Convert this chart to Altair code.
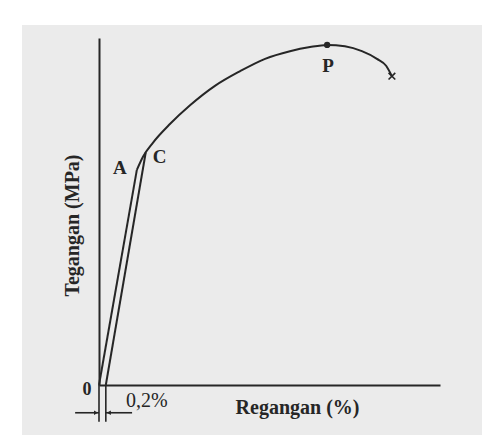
import altair as alt
import pandas as pd

# --- data (strain in %, stress in MPa; schematic values) ---
elastic_strain = [0.0, 1.11]
elastic_stress = [0, 310]

curve_strain = [1.11, 1.29, 1.58, 2.08, 2.67, 3.40, 4.13, 4.87, 5.60, 6.19,
                6.69, 7.21, 7.71, 8.15, 8.42, 8.59]
curve_stress = [310, 329, 349, 376, 403, 431, 452, 470, 481, 487,
                490, 488, 481, 470, 460, 445]

offset_strain = [0.2, 1.37]
offset_stress = [0, 335]

points_name = ["A", "C", "P", "X"]
points_strain = [1.11, 1.37, 6.69, 8.59]
points_stress = [310, 335, 490, 445]

# dimension marker for the 0,2% offset
dim_strain = [0.0, 0.2]
dim_stress_top = [0, 0]
dim_stress_bottom = [-53, -53]
arrow_from = [-0.70, 0.97]
arrow_to = [0.0, 0.2]
arrow_stress = -40

X_DOMAIN = [0, 10]
Y_DOMAIN = [0, 500]
INK = "#262626"
FONT = "Liberation Serif"

xs = alt.Scale(domain=X_DOMAIN, nice=False, zero=False)
ys = alt.Scale(domain=Y_DOMAIN, nice=False, zero=False)

elastic = pd.DataFrame({"e": elastic_strain, "s": elastic_stress})
curve = pd.DataFrame({"e": curve_strain, "s": curve_stress})
offset = pd.DataFrame({"e": offset_strain, "s": offset_stress})
pts = pd.DataFrame({"name": points_name, "e": points_strain, "s": points_stress})
dims = pd.DataFrame({"e": dim_strain, "s": dim_stress_top, "s2": dim_stress_bottom})
arrows = pd.DataFrame({"e": arrow_from, "e2": arrow_to, "s": [arrow_stress] * 2,
                       "dir": ["right", "left"]})
origin = pd.DataFrame({"e": [0.0], "s": [0], "t": ["0"]})
offset_lbl = pd.DataFrame({"e": [0.2], "s": [0], "t": ["0,2%"]})

x_axis = alt.Axis(title="Regangan (%)", ticks=False, labels=False, grid=False, zindex=1,
                  domainColor=INK, domainWidth=2, titleFont=FONT, titleFontSize=20,
                  titleFontWeight="bold", titleColor=INK, titleX=198, titleY=22,
                  titleAlign="center", titleBaseline="middle")
y_axis = alt.Axis(title="Tegangan (MPa)", ticks=False, labels=False, grid=False, zindex=1,
                  domainColor=INK, domainWidth=2, titleFont=FONT, titleFontSize=20,
                  titleFontWeight="bold", titleColor=INK, titleX=-27, titleY=187,
                  titleAlign="center", titleBaseline="middle", titleAngle=270)

panel = alt.Chart(alt.Data(values=[{}])).mark_rect(color="#ebebeb").encode(
    x=alt.value(-77), x2=alt.value(383), y=alt.value(-13), y2=alt.value(397)
)

base_x = alt.X("e:Q", scale=xs, axis=x_axis)
base_y = alt.Y("s:Q", scale=ys, axis=y_axis)

line_elastic = alt.Chart(elastic).mark_line(color=INK, strokeWidth=2).encode(x=base_x, y=base_y)
line_curve = alt.Chart(curve).mark_line(color=INK, strokeWidth=2, interpolate="monotone").encode(
    x=alt.X("e:Q", scale=xs, axis=x_axis), y=alt.Y("s:Q", scale=ys, axis=y_axis))
line_offset = alt.Chart(offset).mark_line(color=INK, strokeWidth=2).encode(
    x=alt.X("e:Q", scale=xs, axis=x_axis), y=alt.Y("s:Q", scale=ys, axis=y_axis))

p_dot = alt.Chart(pts[pts.name == "P"]).mark_point(filled=True, color=INK, size=40, opacity=1).encode(
    x=alt.X("e:Q", scale=xs), y=alt.Y("s:Q", scale=ys))
x_end = alt.Chart(pts[pts.name == "X"]).mark_point(
    shape="M-1,-1L1,1M-1,1L1,-1", filled=False, color=INK, size=45, strokeWidth=1.6, opacity=1
).encode(x=alt.X("e:Q", scale=xs), y=alt.Y("s:Q", scale=ys))


def label(df, dx, dy, size=19, weight="bold"):
    return alt.Chart(df).mark_text(font=FONT, fontSize=size, fontWeight=weight, color=INK,
                                   dx=dx, dy=dy, align="center", baseline="middle").encode(
        x=alt.X("e:Q", scale=xs), y=alt.Y("s:Q", scale=ys), text="name:N")


lbl_a = label(pts[pts.name == "A"], -17, -2)
lbl_c = label(pts[pts.name == "C"], 14, 4)
lbl_p = label(pts[pts.name == "P"], 1, 21)

lbl_0 = alt.Chart(origin).mark_text(font=FONT, fontSize=18, fontWeight="bold", color=INK,
                                    dx=-12, dy=5, align="center", baseline="middle").encode(
    x=alt.X("e:Q", scale=xs), y=alt.Y("s:Q", scale=ys), text="t:N")
lbl_off = alt.Chart(offset_lbl).mark_text(font=FONT, fontSize=20, color=INK,
                                          dx=41, dy=16, align="center", baseline="middle").encode(
    x=alt.X("e:Q", scale=xs), y=alt.Y("s:Q", scale=ys), text="t:N")

dim_lines = alt.Chart(dims).mark_rule(color=INK, strokeWidth=1.6).encode(
    x=alt.X("e:Q", scale=xs), y=alt.Y("s:Q", scale=ys), y2="s2:Q")
arrow_lines = alt.Chart(arrows).mark_rule(color=INK, strokeWidth=1.6).encode(
    x=alt.X("e:Q", scale=xs), x2="e2:Q", y=alt.Y("s:Q", scale=ys))
arrow_heads_r = alt.Chart(arrows[arrows.dir == "right"]).mark_point(
    shape="triangle-right", filled=True, color=INK, size=22, opacity=1, xOffset=-3).encode(
    x=alt.X("e2:Q", scale=xs), y=alt.Y("s:Q", scale=ys))
arrow_heads_l = alt.Chart(arrows[arrows.dir == "left"]).mark_point(
    shape="triangle-left", filled=True, color=INK, size=22, opacity=1, xOffset=3).encode(
    x=alt.X("e2:Q", scale=xs), y=alt.Y("s:Q", scale=ys))

chart = alt.layer(
    panel, line_elastic, line_curve, line_offset, p_dot, x_end,
    lbl_a, lbl_c, lbl_p, lbl_0, lbl_off,
    dim_lines, arrow_lines, arrow_heads_r, arrow_heads_l,
).properties(
    width=341, height=347,
    autosize=alt.AutoSizeParams(type="none"),
    padding={"left": 91, "top": 30, "right": 45, "bottom": 55},
    background="white",
).configure_view(stroke=None)

chart.save("out.html", embed_options={"renderer": "svg", "actions": False})
